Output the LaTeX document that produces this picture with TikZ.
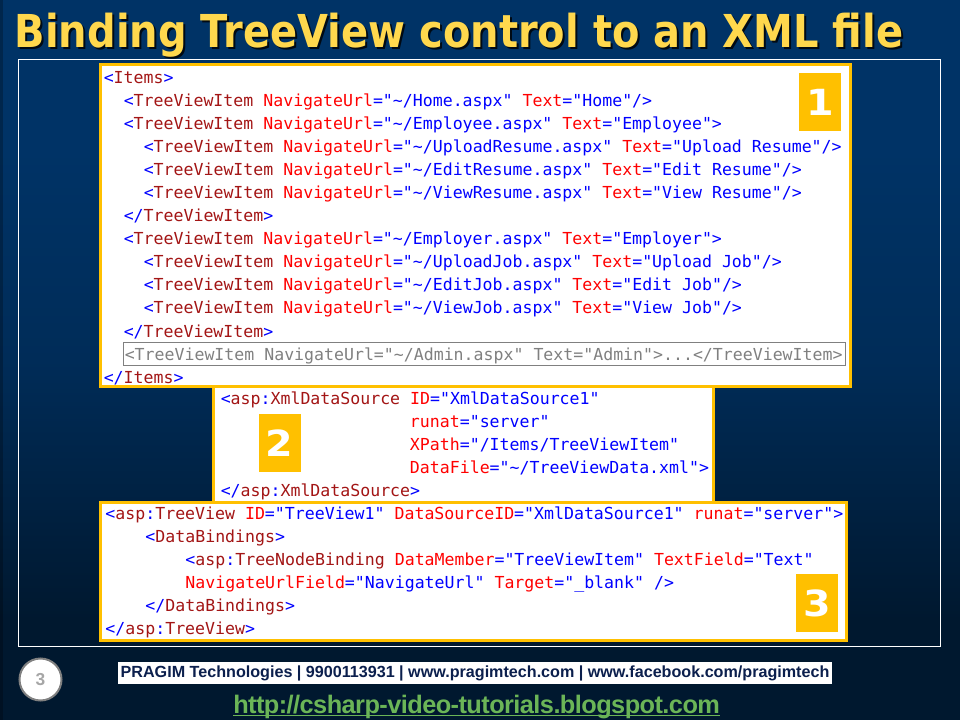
\documentclass[tikz,border=0pt]{standalone}
\usepackage{fontspec}
\setmainfont{Liberation Sans}
\setmonofont{DejaVu Sans Mono}
\newfontfamily\titlefont[FakeStretch=0.882]{DejaVu Sans}
\newfontfamily\digitfont[FakeStretch=1.1]{DejaVu Sans}
\newfontfamily\urlfont[LetterSpace=-2.2]{Liberation Sans}
\definecolor{slidetop}{HTML}{003366}
\definecolor{slidemid}{HTML}{002C58}
\definecolor{slidebot}{HTML}{00182F}
\definecolor{paneledge}{HTML}{FFC000}
\definecolor{titleyellow}{HTML}{FFD84D}
\definecolor{codeblue}{HTML}{0000FF}
\definecolor{codered}{HTML}{FF0000}
\definecolor{codemaroon}{HTML}{A31515}
\definecolor{urlgreen}{HTML}{6BB557}
\definecolor{stripnavy}{HTML}{0B1F4D}
\newcommand{\bl}[1]{\textcolor{codeblue}{#1}}
\newcommand{\el}[1]{\textcolor{codemaroon}{#1}}
\newcommand{\attr}[2]{\textcolor{codered}{#1}\bl{="#2"}}
\newcommand{\tld}{\string~}
\tikzset{
    panel/.style={draw=paneledge, fill=white, line width=2.25pt},
    codeline/.style={anchor=base west, inner sep=0pt, font=\ttfamily\fontsize{12.42}{14}\selectfont},
    badge/.style={fill=paneledge, inner sep=0pt, minimum width=31.5pt, minimum height=43.5pt,
        text=white, font=\digitfont\bfseries\fontsize{27}{30}\selectfont},
}
\begin{document}
\begin{tikzpicture}[x=0.75pt,y=-0.75pt]
    \useasboundingbox (0,0) rectangle (960,720);
    % slide background
    \fill[slidetop] (0,0) rectangle (960,150);
    \shade[top color=slidetop, bottom color=slidemid] (0,150) rectangle (960,360);
    \shade[top color=slidemid, bottom color=slidebot] (0,360) rectangle (960,620);
    \fill[slidebot] (0,620) rectangle (960,720);
    \fill[black, opacity=0.25] (0,0) rectangle (3,720);
    \draw[white, line width=0.75pt] (18.5,59.5) rectangle (940.5,646);

    \node[anchor=base west, inner sep=0pt, text=black, opacity=0.8, font=\titlefont\bfseries\fontsize{34}{40}\selectfont] (titleshadow) at (16.5,50) {Binding TreeView control to an XML file};
    \node[anchor=base west, inner sep=0pt, text=titleyellow, font=\titlefont\bfseries\fontsize{34}{40}\selectfont] (title) at (14.5,48) {Binding TreeView control to an XML file};

    % first panel
    \draw[panel] (100.5,64.5) rectangle (850.5,386.8);
    \node[codeline] (a1) at (103.5,84) {\bl{<}\el{Items}\bl{>}};
    \node[codeline] (a2) at (123.5,107) {\bl{<}\el{TreeViewItem} \attr{NavigateUrl}{\tld/Home.aspx} \attr{Text}{Home}\bl{/>}};
    \node[codeline] (a3) at (123.5,130) {\bl{<}\el{TreeViewItem} \attr{NavigateUrl}{\tld/Employee.aspx} \attr{Text}{Employee}\bl{>}};
    \node[codeline] (a4) at (143.5,153) {\bl{<}\el{TreeViewItem} \attr{NavigateUrl}{\tld/UploadResume.aspx} \attr{Text}{Upload Resume}\bl{/>}};
    \node[codeline] (a5) at (143.5,176) {\bl{<}\el{TreeViewItem} \attr{NavigateUrl}{\tld/EditResume.aspx} \attr{Text}{Edit Resume}\bl{/>}};
    \node[codeline] (a6) at (143.5,199) {\bl{<}\el{TreeViewItem} \attr{NavigateUrl}{\tld/ViewResume.aspx} \attr{Text}{View Resume}\bl{/>}};
    \node[codeline] (a7) at (123.5,222) {\bl{</}\el{TreeViewItem}\bl{>}};
    \node[codeline] (a8) at (123.5,245) {\bl{<}\el{TreeViewItem} \attr{NavigateUrl}{\tld/Employer.aspx} \attr{Text}{Employer}\bl{>}};
    \node[codeline] (a9) at (143.5,268) {\bl{<}\el{TreeViewItem} \attr{NavigateUrl}{\tld/UploadJob.aspx} \attr{Text}{Upload Job}\bl{/>}};
    \node[codeline] (a10) at (143.5,291) {\bl{<}\el{TreeViewItem} \attr{NavigateUrl}{\tld/EditJob.aspx} \attr{Text}{Edit Job}\bl{/>}};
    \node[codeline] (a11) at (143.5,314) {\bl{<}\el{TreeViewItem} \attr{NavigateUrl}{\tld/ViewJob.aspx} \attr{Text}{View Job}\bl{/>}};
    \node[codeline] (a12) at (123.5,337) {\bl{</}\el{TreeViewItem}\bl{>}};
    \draw[gray, line width=0.75pt] (123.5,342.5) rectangle (845,365);
    \node[codeline, text=gray] (a13) at (124.5,360) {<TreeViewItem NavigateUrl="\tld/Admin.aspx" Text="Admin">...</TreeViewItem>};
    \node[codeline] (a14) at (103.5,383) {\bl{</}\el{Items}\bl{>}};
    \node[badge] (badge1) at (820,102) {1};

    % second panel
    \draw[panel] (213.5,386.8) rectangle (713.5,503);
    \node[codeline] (b1) at (220.5,404.5) {\bl{<}\el{asp}\bl{:}\el{XmlDataSource} \attr{ID}{XmlDataSource1}};
    \node[codeline] (b2) at (409.7,427.5) {\attr{runat}{server}};
    \node[codeline] (b3) at (409.7,450.5) {\attr{XPath}{/Items/TreeViewItem}};
    \node[codeline] (b4) at (409.7,473.5) {\attr{DataFile}{\tld/TreeViewData.xml}\bl{>}};
    \node[codeline] (b5) at (220.5,496.5) {\bl{</}\el{asp}\bl{:}\el{XmlDataSource}\bl{>}};
    \node[badge] (badge2) at (279.5,443) {2};

    % third panel
    \draw[panel] (100.5,502.5) rectangle (846.5,640.5);
    \node[codeline] (c1) at (105.2,519.5) {\bl{<}\el{asp}\bl{:}\el{TreeView} \attr{ID}{TreeView1} \attr{DataSourceID}{XmlDataSource1} \attr{runat}{server}\bl{>}};
    \node[codeline] (c2) at (145.2,542.5) {\bl{<}\el{DataBindings}\bl{>}};
    \node[codeline] (c3) at (185.2,565.5) {\bl{<}\el{asp}\bl{:}\el{TreeNodeBinding} \attr{DataMember}{TreeViewItem} \attr{TextField}{Text}};
    \node[codeline] (c4) at (185.2,588.5) {\attr{NavigateUrlField}{NavigateUrl} \attr{Target}{\_blank} \bl{/>}};
    \node[codeline] (c5) at (145.2,611.5) {\bl{</}\el{DataBindings}\bl{>}};
    \node[codeline] (c6) at (105.2,634.5) {\bl{</}\el{asp}\bl{:}\el{TreeView}\bl{>}};
    \node[badge] (badge3) at (817,603) {3};

    % footer
    \node[circle, draw=gray, line width=1.5pt, fill=white, text=gray!70, minimum size=31.5pt, inner sep=0pt, font=\bfseries\fontsize{13}{15}\selectfont] (pagenum) at (40.5,679.5) {3};
    \node[fill=white, inner sep=0pt, minimum width=535.5pt, minimum height=16.5pt, text=stripnavy, font=\bfseries\fontsize{12.1}{14}\selectfont] (strip) at (475,673) {PRAGIM Technologies | 9900113931 | www.pragimtech.com | www.facebook.com/pragimtech};
    \node[anchor=base west, inner sep=0pt, text=urlgreen, font=\urlfont\bfseries\fontsize{19}{22}\selectfont] (url) at (233,713) {http://csharp-video-tutorials.blogspot.com};
    \draw[urlgreen, line width=0.75pt] ([yshift=-1.6pt]url.base west) -- ([yshift=-1.6pt]url.base east);
\end{tikzpicture}
\end{document}
